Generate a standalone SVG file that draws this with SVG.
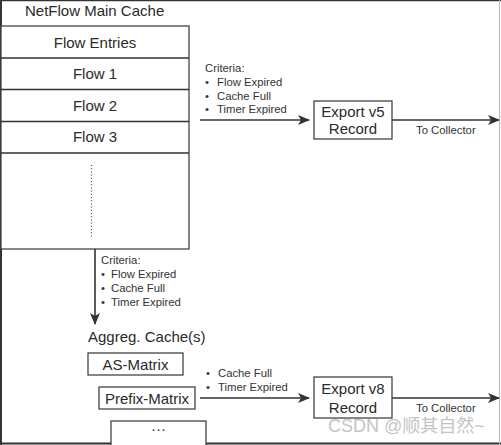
<svg xmlns="http://www.w3.org/2000/svg" width="501" height="445" viewBox="0 0 501 445">
<defs>
<style>
text{font-family:"Liberation Sans",Arial,sans-serif;fill:#2a2a2a}
.big{font-size:15px}
.sm{font-size:11.3px;fill:#333}
.box{fill:#fff;stroke:#444;stroke-width:1.3}
.ln{stroke:#333;stroke-width:1.6;fill:none}
.c{text-anchor:middle}
</style>
<marker id="ah" viewBox="0 0 12 10" refX="11" refY="5" markerWidth="12" markerHeight="10" markerUnits="userSpaceOnUse" orient="auto">
<path d="M0,0 L12,5 L0,10 L3,5 Z" fill="#333"/>
</marker>
</defs>
<rect x="0" y="0" width="501" height="445" fill="#fff"/>
<g id="frame">
<line x1="0" y1="0.5" x2="501" y2="0.5" stroke="#333" stroke-width="1.5"/>
<line x1="1" y1="0" x2="1" y2="445" stroke="#333" stroke-width="2"/>
<line x1="0" y1="443.5" x2="501" y2="443.5" stroke="#333" stroke-width="2"/>
<line x1="499.5" y1="0" x2="499.5" y2="445" stroke="#bbb" stroke-width="1"/>
</g>
<g id="main-cache">
<text class="big" x="25" y="16">NetFlow Main Cache</text>
<rect class="box" x="1" y="26" width="188" height="223"/>
<line class="ln" x1="1" y1="58" x2="189" y2="58" stroke-width="1.2"/>
<line class="ln" x1="1" y1="89.5" x2="189" y2="89.5" stroke-width="1.2"/>
<line class="ln" x1="1" y1="121.5" x2="189" y2="121.5" stroke-width="1.2"/>
<line class="ln" x1="1" y1="153" x2="189" y2="153" stroke-width="1.2"/>
<text class="big c" x="95" y="47.5">Flow Entries</text>
<text class="big c" x="95" y="79">Flow 1</text>
<text class="big c" x="95" y="110.5">Flow 2</text>
<text class="big c" x="95" y="142">Flow 3</text>
<line x1="91.5" y1="165" x2="91.5" y2="238" stroke="#444" stroke-width="1.2" stroke-dasharray="1 2.2"/>
</g>
<g id="export-v5">
<rect class="box" x="314" y="101" width="78" height="38"/>
<text class="big c" x="353" y="117">Export v5</text>
<text class="big c" x="353" y="134">Record</text>
</g>
<g id="aggreg-cache">
<text class="big" x="88" y="342">Aggreg. Cache(s)</text>
</g>
<g id="as-matrix">
<rect class="box" x="88" y="353" width="95" height="22"/>
<text class="big c" x="135.5" y="369.5">AS-Matrix</text>
</g>
<g id="prefix-matrix">
<rect class="box" x="99" y="387" width="96" height="22"/>
<text class="big c" x="147" y="403.5">Prefix-Matrix</text>
</g>
<g id="more-caches">
<rect class="box" x="111" y="421" width="95" height="25"/>
<text class="big c" x="158.5" y="434">···</text>
</g>
<g id="export-v8">
<rect class="box" x="314" y="377" width="78" height="41"/>
<text class="big c" x="353" y="394">Export v8</text>
<text class="big c" x="353" y="413">Record</text>
</g>
<g id="connectors">
<line class="ln" x1="200" y1="120" x2="309" y2="120" marker-end="url(#ah)"/>
<line class="ln" x1="392" y1="120" x2="499" y2="120" marker-end="url(#ah)"/>
<line class="ln" x1="95" y1="249" x2="95" y2="324" marker-end="url(#ah)"/>
<line class="ln" x1="200" y1="398" x2="309" y2="398" marker-end="url(#ah)"/>
<line class="ln" x1="392" y1="398" x2="499" y2="398" marker-end="url(#ah)"/>
</g>
<g id="labels">
<text class="sm" x="205" y="72">Criteria:</text>
<text class="sm" y="86"><tspan x="205">•</tspan><tspan x="217">Flow Expired</tspan></text>
<text class="sm" y="99.5"><tspan x="205">•</tspan><tspan x="217">Cache Full</tspan></text>
<text class="sm" y="113"><tspan x="205">•</tspan><tspan x="217">Timer Expired</tspan></text>
<text class="sm" x="416" y="134">To Collector</text>
<text class="sm" x="101" y="264">Criteria:</text>
<text class="sm" y="278"><tspan x="101">•</tspan><tspan x="111">Flow Expired</tspan></text>
<text class="sm" y="292"><tspan x="101">•</tspan><tspan x="111">Cache Full</tspan></text>
<text class="sm" y="305.5"><tspan x="101">•</tspan><tspan x="111">Timer Expired</tspan></text>
<text class="sm" y="377"><tspan x="206">•</tspan><tspan x="218">Cache Full</tspan></text>
<text class="sm" y="391"><tspan x="206">•</tspan><tspan x="218">Timer Expired</tspan></text>
<text class="sm" x="416" y="412">To Collector</text>
</g>
<text x="328" y="432" style="font-family:'Liberation Sans','Noto Sans CJK SC',sans-serif;font-size:18px;fill:#c4c4c4">CSDN @顺其自然~</text>
</svg>
